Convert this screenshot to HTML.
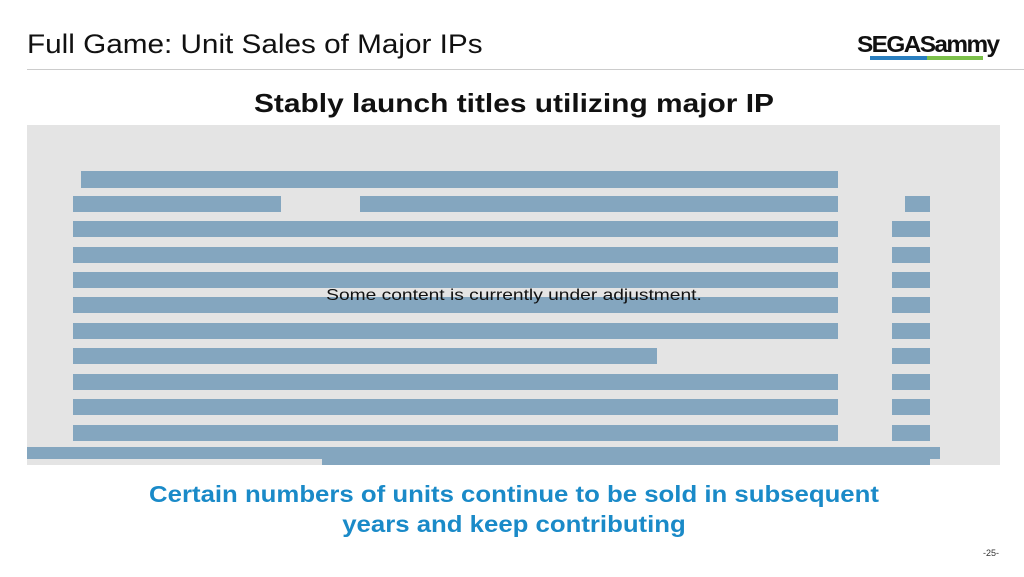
<!DOCTYPE html><html><head><style>
body{margin:0;width:1024px;height:577px;background:#fff;position:relative;overflow:hidden;font-family:"Liberation Sans",Arial,sans-serif}
.a{position:absolute;white-space:nowrap}
.b{position:absolute;background:#84a6bf;height:16px}
</style></head><body>
<div class="a" style="left:27px;top:29px;font-size:27px;color:#111;transform:scaleX(1.1);transform-origin:left">Full Game: Unit Sales of Major IPs</div>
<div class="a" style="left:857px;top:31px;font-size:23px;font-weight:bold;color:#111;letter-spacing:-1.5px;transform:scaleX(1.06);transform-origin:left">SEGASammy</div>
<div class="a" style="left:870px;top:56px;width:57px;height:4px;background:#2a7fc0"></div>
<div class="a" style="left:927px;top:56px;width:56px;height:4px;background:#7cc04a"></div>
<div class="a" style="left:27px;top:69px;width:997px;height:1px;background:#ccc"></div>
<div class="a" style="left:0;width:1028px;top:88px;text-align:center;font-size:26px;font-weight:bold;color:#111;transform:scaleX(1.15)">Stably launch titles utilizing major IP</div>
<div class="a" style="left:27px;top:125px;width:973px;height:340px;background:#e4e4e4"></div>
<div class="b" style="left:81px;width:757px;top:171px;height:17px"></div>
<div class="b" style="left:73px;width:208px;top:196px"></div>
<div class="b" style="left:360px;width:478px;top:196px"></div>
<div class="b" style="left:905px;width:25px;top:196px"></div>
<div class="b" style="left:73px;width:765px;top:221px"></div><div class="b" style="left:892px;width:38px;top:221px"></div>
<div class="b" style="left:73px;width:765px;top:247px"></div><div class="b" style="left:892px;width:38px;top:247px"></div>
<div class="b" style="left:73px;width:765px;top:272px"></div><div class="b" style="left:892px;width:38px;top:272px"></div>
<div class="b" style="left:73px;width:765px;top:297px"></div><div class="b" style="left:892px;width:38px;top:297px"></div>
<div class="b" style="left:73px;width:765px;top:323px"></div><div class="b" style="left:892px;width:38px;top:323px"></div>
<div class="b" style="left:73px;width:584px;top:348px"></div><div class="b" style="left:892px;width:38px;top:348px"></div>
<div class="b" style="left:73px;width:765px;top:374px"></div><div class="b" style="left:892px;width:38px;top:374px"></div>
<div class="b" style="left:73px;width:765px;top:399px"></div><div class="b" style="left:892px;width:38px;top:399px"></div>
<div class="b" style="left:73px;width:765px;top:425px"></div><div class="b" style="left:892px;width:38px;top:425px"></div>
<div class="b" style="left:27px;width:913px;top:447px;height:12px"></div>
<div class="b" style="left:322px;width:608px;top:459px;height:6px"></div>
<div class="a" style="left:0;width:1028px;top:287px;text-align:center;font-size:16px;color:#111;transform:scaleX(1.2)">Some content is currently under adjustment.</div>
<div class="a" style="left:0;width:1028px;top:479px;text-align:center;font-size:23px;font-weight:bold;color:#1a8ac8;line-height:30px;transform:scaleX(1.12)">Certain numbers of units continue to be sold in subsequent<br>years and keep contributing</div>
<div class="a" style="left:983px;top:548px;font-size:9px;color:#333">-25-</div>
</body></html>
